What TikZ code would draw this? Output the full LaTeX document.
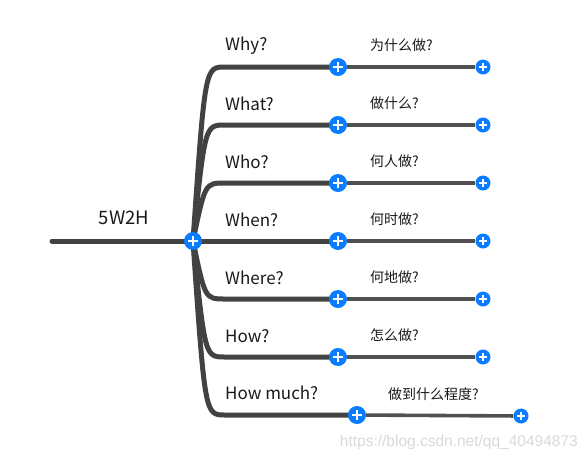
\documentclass[tikz,border=0pt]{standalone}
\usepackage{fontspec}
\setmainfont{Noto Sans CJK SC}
\newfontfamily\webfont{Liberation Sans}
\usetikzlibrary{positioning, backgrounds}
\definecolor{mapline}{HTML}{424242}
\definecolor{subline}{HTML}{505050}
\definecolor{mapblue}{HTML}{0A7CFF}
\definecolor{markgray}{HTML}{D9D9D9}
\tikzset{
    plusdot/.style 2 args={circle, fill=mapblue, inner sep=0pt, minimum size=#1,
        path picture={\draw[white, line width=2.2pt]
            ([xshift=-#2]path picture bounding box.center) -- ([xshift=#2]path picture bounding box.center)
            ([yshift=-#2]path picture bounding box.center) -- ([yshift=#2]path picture bounding box.center);}},
    bigplus/.style={plusdot={18pt}{4.6pt}},
    smallplus/.style={plusdot={15pt}{3.8pt}},
    trunk/.style={draw=mapline, line width=5pt},
    twig/.style={draw=subline, line width=3.6pt},
    lone/.style={anchor=west, inner sep=0pt, text=black!90, font=\fontsize{17}{20}\selectfont},
    ltwo/.style={anchor=west, inner sep=0pt, text=black!90, font=\fontsize{14}{17}\selectfont},
}

\begin{document}
\begin{tikzpicture}[x=1pt, y=-1pt]
    \useasboundingbox (0,0) rectangle (588,461);
    % root
    \coordinate (start) at (52,241);
    \node[bigplus] (root) at (193,241) {};
    \node[text=black!90, font=\fontsize{18.5}{21}\selectfont] (title) at (124,218) {5W2H};
    % first level
    \node[bigplus] (why) at (338,67) {};
    \node[bigplus] (what) at (338,125) {};
    \node[bigplus] (who) at (338,183) {};
    \node[bigplus] (when) at (338,241) {};
    \node[bigplus] (where) at (338,299) {};
    \node[bigplus] (how) at (338,357) {};
    \node[bigplus] (much) at (357,415) {};
    \node[lone] (whylab) at (225,46) {Why?};
    \node[lone] (whatlab) at (225,104) {What?};
    \node[lone] (wholab) at (225,162) {Who?};
    \node[lone] (whenlab) at (225,220) {When?};
    \node[lone] (wherelab) at (225,278) {Where?};
    \node[lone] (howlab) at (225,336) {How?};
    \node[lone] (muchlab) at (225,393) {How much?};
    % second level
    \node[smallplus] (whyend) at (483,67) {};
    \node[smallplus] (whatend) at (483,125) {};
    \node[smallplus] (whoend) at (483,183) {};
    \node[smallplus] (whenend) at (483,241) {};
    \node[smallplus] (whereend) at (483,299) {};
    \node[smallplus] (howend) at (483,357) {};
    \node[smallplus] (muchend) at (521,416) {};
    \node[ltwo] (whytxt) at (370,45) {为什么做?};
    \node[ltwo] (whattxt) at (370,103) {做什么?};
    \node[ltwo] (whotxt) at (370,161) {何人做?};
    \node[ltwo] (whentxt) at (370,219) {何时做?};
    \node[ltwo] (wheretxt) at (370,277) {何地做?};
    \node[ltwo] (howtxt) at (370,335) {怎么做?};
    \node[ltwo] (muchtxt) at (388,394) {做到什么程度?};
    % watermark
    \node[anchor=east, inner sep=0pt, text=markgray, font=\webfont\fontsize{15.5}{18}\selectfont] (mark) at (578,442) {https://blog.csdn.net/qq\_40494873};
    \begin{scope}[on background layer]
        \draw[trunk, line cap=round] (start) -- (root.center);
        \draw[trunk] (root.center) .. controls (205,67) .. (225,67) -- (why.center);
        \draw[trunk] (root.center) .. controls (205,125) .. (225,125) -- (what.center);
        \draw[trunk] (root.center) .. controls (205,183) .. (225,183) -- (who.center);
        \draw[trunk] (root.center) -- (when.center);
        \draw[trunk] (root.center) .. controls (205,299) .. (225,299) -- (where.center);
        \draw[trunk] (root.center) .. controls (205,357) .. (225,357) -- (how.center);
        \draw[trunk] (root.center) .. controls (205,415) .. (225,415) -- (much.center);
        \draw[twig] (why) -- (whyend);
        \draw[twig] (what) -- (whatend);
        \draw[twig] (who) -- (whoend);
        \draw[twig] (when) -- (whenend);
        \draw[twig] (where) -- (whereend);
        \draw[twig] (how) -- (howend);
        \draw[twig] (much) -- (muchend);
    \end{scope}
\end{tikzpicture}
\end{document}
